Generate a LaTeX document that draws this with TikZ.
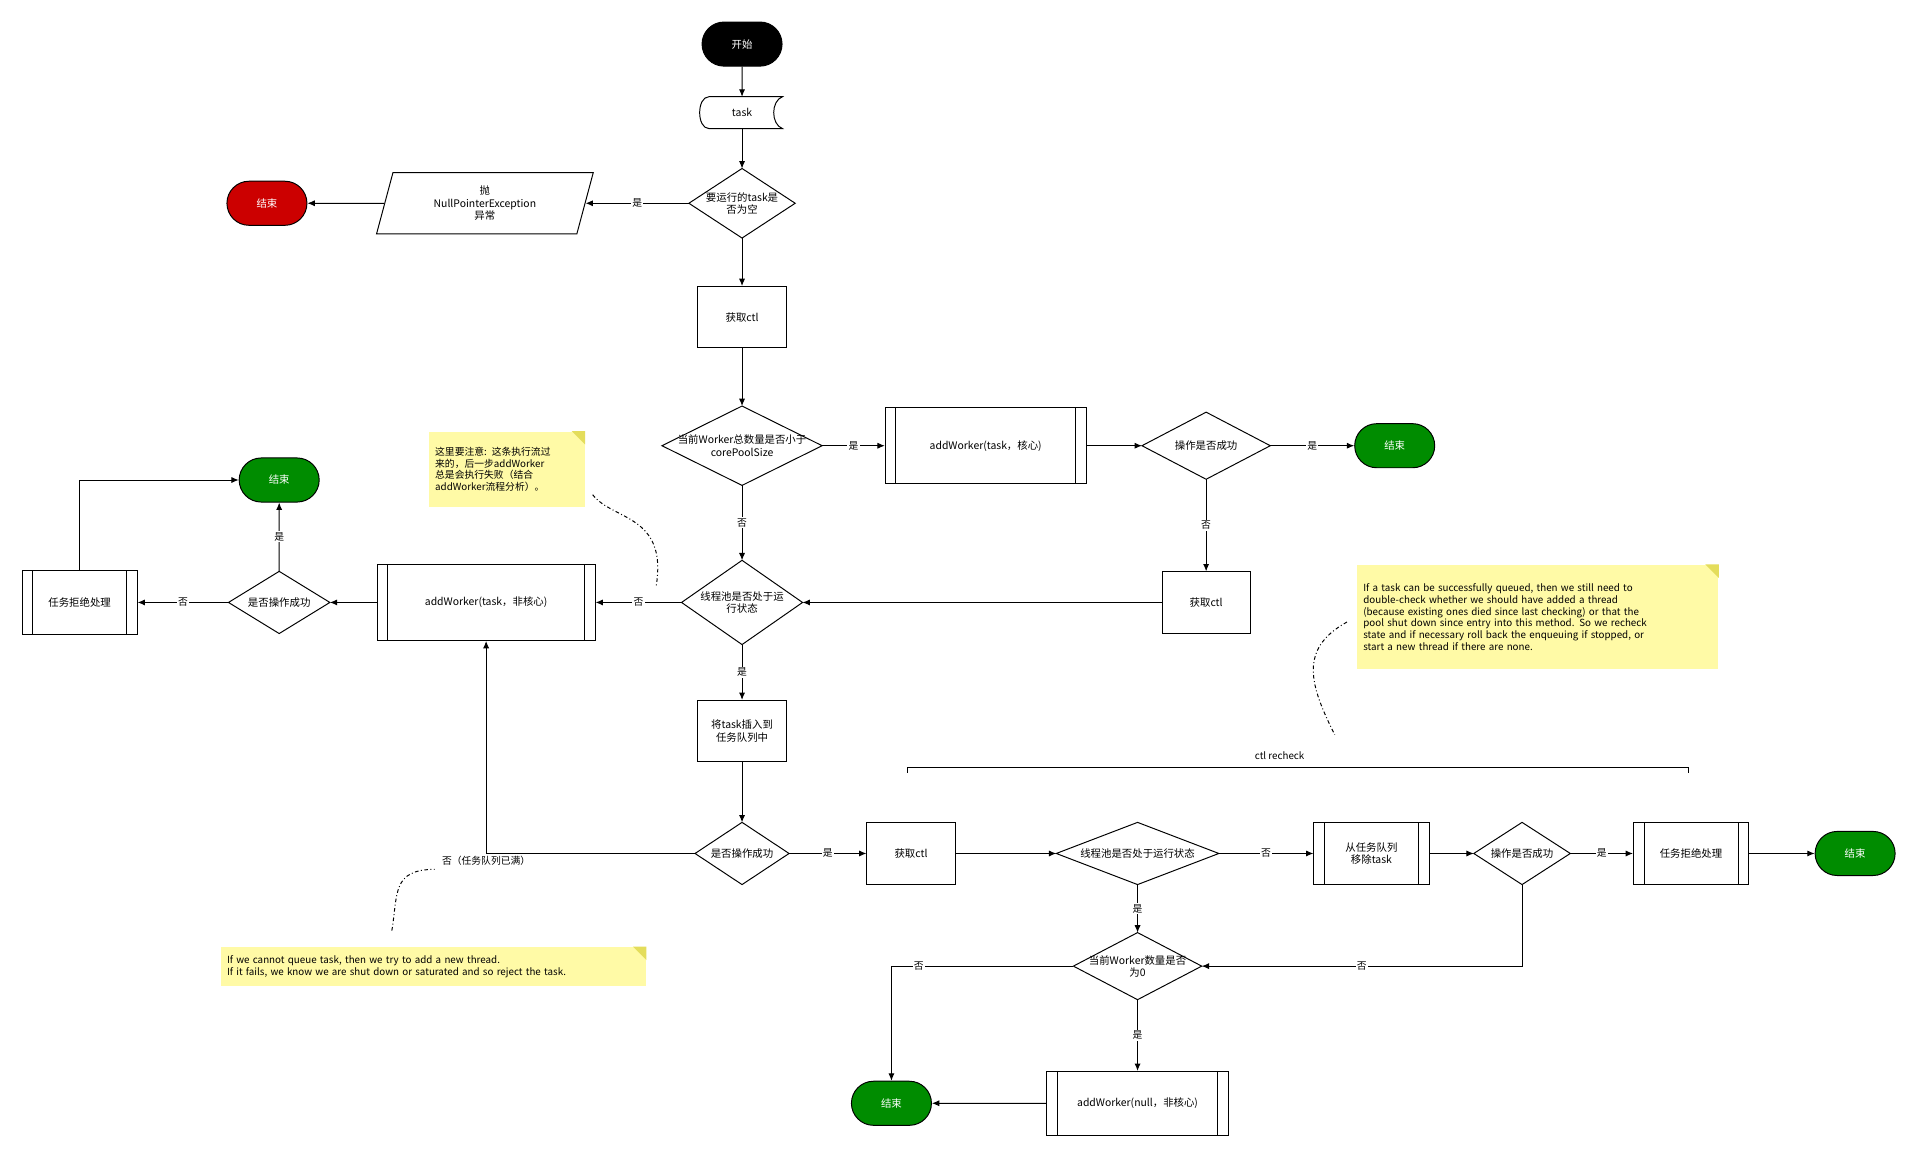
\documentclass[tikz,border=0pt]{standalone}
\usepackage{fontspec}
\setmainfont{Noto Sans CJK SC}
\usetikzlibrary{shapes.geometric,shapes.misc,arrows.meta,positioning}
\newcommand\mydia[5]{\node[dia,minimum width=#3pt,minimum height=#4pt] (#1) at (#2) {#5};
 \draw (#1.north)--(#1.east)--(#1.south)--(#1.west)--cycle;}
\begin{document}
\begin{tikzpicture}[x=1pt,y=-1pt,font=\fontsize{8.5}{10}\selectfont,
 line width=0.8pt,
 >={Latex[length=6pt,width=5pt]},
 box/.style={draw,fill=white,minimum width=72pt,minimum height=50pt,align=center},
 dia/.style={rectangle,inner sep=0pt,align=center},
 pill/.style={draw,rounded rectangle,minimum width=72pt,minimum height=36pt,text=white},
 proc/.style={draw,fill=white,minimum height=50pt,align=center},
 lab/.style={fill=white,inner sep=1pt,font=\fontsize{8}{9}\selectfont},
 note/.style={fill=yellow!35,align=left,inner sep=5pt,anchor=north west,font=\fontsize{8}{9.5}\selectfont},
 dd/.style={dash dot,line width=0.8pt}]
\fill[white] (0,0) rectangle (1568,944);
\useasboundingbox (0,0) rectangle (1568,944);
% nodes
\node[pill,fill=black] (st) at (606,36) {开始};
\node (task) at (606,92) {task};
\draw (task.center) ++(-27,-13) coordinate(tl) -- ++(60,0) to[out=200,in=160] ++(0,26) -- ++(-60,0) to[out=180,in=180] (tl);
\coordinate (tasktop) at (606,79); \coordinate (taskbot) at (606,105);
\mydia{d1}{606,166}{86}{56}{要运行的task是\\否为空}
\node[draw,trapezium,trapezium left angle=75,trapezium right angle=105,minimum width=130pt,minimum height=50pt,align=center,inner sep=0pt] (npe) at (396,166) {抛\\NullPointerException\\异常};
\node[pill,fill=red!80!black,draw=black] (e1) at (218,166) {结束};
\node[box] (c1) at (606,259) {获取ctl};
\mydia{d2}{606,364}{130}{64}{当前Worker总数量是否小于\\corePoolSize}
\node[proc,minimum width=164pt,minimum height=62pt] (a1) at (805,364) {addWorker(task，核心)};
\mydia{d3}{985,364}{104}{54}{操作是否成功}
\node[pill,fill=green!55!black] (e2) at (1139,364) {结束};
\node[box] (c2) at (985,492) {获取ctl};
\mydia{d4}{606,492}{98}{68}{线程池是否处于运\\行状态}
\node[proc,minimum width=178pt,minimum height=62pt] (a2) at (397,492) {addWorker(task，非核心)};
\mydia{d5}{228,492}{82}{50}{是否操作成功}
\node[proc,minimum width=94pt,minimum height=52pt] (r1) at (65,492) {任务拒绝处理};
\node[pill,fill=green!55!black] (e3) at (228,392) {结束};
\node[box] (ins) at (606,597) {将task插入到\\任务队列中};
\mydia{d6}{606,697}{76}{50}{是否操作成功}
\node[box] (c3) at (744,697) {获取ctl};
\mydia{d7}{929,697}{132}{50}{线程池是否处于运行状态}
\node[proc,minimum width=94pt] (rm) at (1120,697) {从任务队列\\移除task};
\mydia{d8}{1243,697}{78}{50}{操作是否成功}
\node[proc,minimum width=94pt] (r2) at (1381,697) {任务拒绝处理};
\node[pill,fill=green!55!black] (e4) at (1515,697) {结束};
\mydia{d9}{929,789}{104}{54}{当前Worker数量是否\\为0}
\node[proc,minimum width=148pt,minimum height=52pt] (a3) at (929,901) {addWorker(null，非核心)};
\node[pill,fill=green!55!black] (e5) at (728,901) {结束};
\foreach \n in {a1,a2,a3,r1,r2,rm}{
 \draw ([xshift=9pt]\n.north west)--([xshift=9pt]\n.south west)
       ([xshift=-9pt]\n.north east)--([xshift=-9pt]\n.south east);}
% edges
\draw[->] (st) -- (tasktop);
\draw[->] (taskbot) -- (d1);
\draw[->] (d1) -- node[lab]{是} (npe);
\draw[->] (npe) -- (e1);
\draw[->] (d1) -- (c1);
\draw[->] (c1) -- (d2);
\draw[->] (d2) -- node[lab]{是} (a1);
\draw[->] (a1) -- (d3);
\draw[->] (d3) -- node[lab]{是} (e2);
\draw[->] (d3) -- node[lab]{否} (c2);
\draw[->] (c2) -- (d4);
\draw[->] (d2) -- node[lab]{否} (d4);
\draw[->] (d4) -- node[lab]{否} (a2);
\draw[->] (a2) -- (d5);
\draw[->] (d5) -- node[lab]{否} (r1);
\draw[->] (d5) -- node[lab]{是} (e3);
\draw[->] (r1.north) -- (65,392) -- (e3.west);
\draw[->] (d4) -- node[lab]{是} (ins);
\draw[->] (ins) -- (d6);
\draw[->] (d6.west) -- (397,697) node[lab,yshift=-6pt]{否（任务队列已满）} -- (a2.south);
\draw[->] (d6) -- node[lab]{是} (c3);
\draw[->] (c3) -- (d7);
\draw[->] (d7) -- node[lab]{否} (rm);
\draw[->] (rm) -- (d8);
\draw[->] (d8) -- node[lab]{是} (r2);
\draw[->] (r2) -- (e4);
\draw[->] (d7) -- node[lab]{是} (d9);
\draw[->] (d8.south) -- (1243,789) -- node[lab]{否} (d9.east);
\draw[->] (d9.west) -- node[lab,pos=0.85]{否} (728,789) -- (e5.north);
\draw[->] (d9) -- node[lab]{是} (a3);
\draw[->] (a3) -- (e5);
% bracket
\draw[line width=0.6pt] (741,631) -- (741,627) -- (1379,627) -- (1379,631);
\node[font=\fontsize{8}{9}\selectfont] (br) at (1045,617) {ctl recheck};
% notes
\node[note,text width=117pt,minimum height=62pt] (n1) at (350,352) {这里要注意: 这条执行流过\\来的，后一步addWorker\\总是会执行失败（结合\\addWorker流程分析）。};
\node[note,text width=285pt,minimum height=85pt] (n2) at (1108,461) {If a task can be successfully queued, then we still need to\\double-check whether we should have added a thread\\(because existing ones died since last checking) or that the\\pool shut down since entry into this method. So we recheck\\state and if necessary roll back the enqueuing if stopped, or\\start a new thread if there are none.};
\node[note,text width=337pt,minimum height=32pt] (n3) at (180,773) {If we cannot queue task, then we try to add a new thread.\\If it fails, we know we are shut down or saturated and so reject the task.};
\foreach \n in {n1,n2,n3}{\fill[yellow!60!olive!60] (\n.north east) -- ++(-11,0) -- ++(11,11) -- cycle;}
\coordinate (p1) at (484,404); \coordinate (q1) at (536,478);
\draw[dd] (p1) .. controls (500,425) and (545,420) .. (q1);
\coordinate (p2) at (1100,508); \coordinate (q2) at (1090,600);
\draw[dd] (p2) .. controls (1060,530) and (1070,560) .. (q2);
\coordinate (p3) at (320,760); \coordinate (q3) at (355,710);
\draw[dd] (p3) .. controls (325,730) and (320,710) .. (q3);
\end{tikzpicture}
\end{document}
